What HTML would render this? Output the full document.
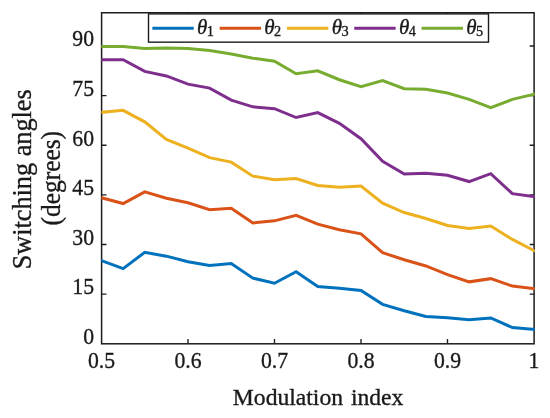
<!DOCTYPE html>
<html><head><meta charset="utf-8"><title>Switching angles</title>
<style>html,body{margin:0;padding:0;background:#fff}svg{display:block}text{font-family:"Liberation Serif",serif;fill:#1a1a1a;stroke:#1a1a1a;stroke-width:0.35px}</style></head><body>
<svg width="550" height="418" viewBox="0 0 550 418">
<rect width="550" height="418" fill="#fff"/>
<g stroke="#1c1c1c" stroke-width="1.5" fill="none">
<rect x="101.60" y="12.75" width="432.50" height="331.05"/>
<path stroke-width="1.35" d="M101.50 294.17h5.00 M534.00 294.17h-4.30"/>
<path stroke-width="1.35" d="M101.50 244.53h5.00 M534.00 244.53h-4.30"/>
<path stroke-width="1.35" d="M101.50 194.90h5.00 M534.00 194.90h-4.30"/>
<path stroke-width="1.35" d="M101.50 145.27h5.00 M534.00 145.27h-4.30"/>
<path stroke-width="1.35" d="M101.50 95.63h5.00 M534.00 95.63h-4.30"/>
<path stroke-width="1.35" d="M101.50 46.00h5.00 M534.00 46.00h-4.30"/>
<path stroke-width="1.35" d="M188.00 343.80v-4.80 M188.00 12.75v4.30"/>
<path stroke-width="1.35" d="M274.50 343.80v-4.80 M274.50 12.75v4.30"/>
<path stroke-width="1.35" d="M361.00 343.80v-4.80 M361.00 12.75v4.30"/>
<path stroke-width="1.35" d="M447.50 343.80v-4.80 M447.50 12.75v4.30"/>
</g>
<clipPath id="c"><rect x="101.40" y="12.75" width="433.40" height="331.75"/></clipPath>
<g clip-path="url(#c)" fill="none" stroke-width="3.00" stroke-linejoin="miter" stroke-linecap="square">
<polyline stroke="#0072BD" points="101.50,260.55 123.12,268.65 144.75,252.35 166.38,256.15 188.00,261.75 209.62,265.55 231.25,263.45 252.88,278.15 274.50,283.25 296.12,271.75 317.75,286.55 339.38,288.25 361.00,290.45 382.62,304.35 404.25,310.75 425.88,316.55 447.50,317.65 469.12,319.75 490.75,317.95 512.38,327.55 534.00,329.35"/>
<polyline stroke="#D95319" points="101.50,197.75 123.12,203.55 144.75,191.85 166.38,198.25 188.00,202.75 209.62,209.65 231.25,208.25 252.88,222.95 274.50,220.85 296.12,215.25 317.75,224.15 339.38,229.75 361.00,233.85 382.62,252.65 404.25,259.75 425.88,265.95 447.50,274.55 469.12,281.85 490.75,278.65 512.38,286.05 534.00,288.65"/>
<polyline stroke="#EDB120" points="101.50,112.35 123.12,110.35 144.75,121.85 166.38,139.35 188.00,148.15 209.62,157.65 231.25,162.15 252.88,176.15 274.50,179.75 296.12,178.45 317.75,185.55 339.38,187.35 361.00,186.05 382.62,203.25 404.25,212.55 425.88,218.55 447.50,225.45 469.12,228.55 490.75,225.95 512.38,239.45 534.00,250.55"/>
<polyline stroke="#7E2F8E" points="101.50,59.65 123.12,59.65 144.75,71.35 166.38,75.95 188.00,84.15 209.62,88.15 231.25,100.15 252.88,106.85 274.50,108.65 296.12,117.55 317.75,112.65 339.38,123.35 361.00,138.75 382.62,161.25 404.25,173.95 425.88,173.35 447.50,175.25 469.12,181.55 490.75,173.65 512.38,193.65 534.00,196.65"/>
<polyline stroke="#77AC30" points="101.50,46.45 123.12,46.45 144.75,48.45 166.38,48.05 188.00,48.45 209.62,50.55 231.25,53.95 252.88,58.15 274.50,61.25 296.12,73.75 317.75,70.85 339.38,79.75 361.00,86.65 382.62,80.55 404.25,88.65 425.88,89.25 447.50,93.05 469.12,99.35 490.75,107.75 512.38,99.35 534.00,94.25"/>
</g>
<text transform="translate(94.1 344.10) scale(0.925 1)" font-size="23.5" text-anchor="end">0</text>
<text transform="translate(94.1 294.47) scale(0.925 1)" font-size="23.5" text-anchor="end">15</text>
<text transform="translate(94.1 244.83) scale(0.925 1)" font-size="23.5" text-anchor="end">30</text>
<text transform="translate(94.1 195.20) scale(0.925 1)" font-size="23.5" text-anchor="end">45</text>
<text transform="translate(94.1 145.57) scale(0.925 1)" font-size="23.5" text-anchor="end">60</text>
<text transform="translate(94.1 95.93) scale(0.925 1)" font-size="23.5" text-anchor="end">75</text>
<text transform="translate(94.1 46.30) scale(0.925 1)" font-size="23.5" text-anchor="end">90</text>
<text transform="translate(101.50 368.2) scale(0.925 1)" font-size="23.5" text-anchor="middle">0.5</text>
<text transform="translate(188.00 368.2) scale(0.925 1)" font-size="23.5" text-anchor="middle">0.6</text>
<text transform="translate(274.50 368.2) scale(0.925 1)" font-size="23.5" text-anchor="middle">0.7</text>
<text transform="translate(361.00 368.2) scale(0.925 1)" font-size="23.5" text-anchor="middle">0.8</text>
<text transform="translate(447.50 368.2) scale(0.925 1)" font-size="23.5" text-anchor="middle">0.9</text>
<text transform="translate(534.00 368.2) scale(0.925 1)" font-size="23.5" text-anchor="middle">1</text>
<text transform="translate(318.1 404.8) scale(1.005 1)" font-size="23.5" word-spacing="2" text-anchor="middle">Modulation index</text>
<text transform="translate(30.9 179.3) rotate(-90) scale(0.955 1)" font-size="27.5" text-anchor="middle">Switching angles</text>
<text transform="translate(59.8 178.2) rotate(-90) scale(0.925 1)" font-size="27.5" text-anchor="middle">(degrees)</text>
<rect x="148.5" y="13.9" width="340" height="28.25" fill="#fff" stroke="#1c1c1c" stroke-width="1.4"/>
<path d="M152.35 28.2h41.4" stroke="#0072BD" stroke-width="3.00" fill="none"/>
<text x="197.05" y="33.7" font-size="21" font-style="italic" stroke-width="0.5">θ<tspan font-size="14.3" font-style="normal" dx="-0.6" dy="2.2">1</tspan></text>
<path d="M219.65 28.2h41.4" stroke="#D95319" stroke-width="3.00" fill="none"/>
<text x="264.35" y="33.7" font-size="21" font-style="italic" stroke-width="0.5">θ<tspan font-size="14.3" font-style="normal" dx="-0.6" dy="2.2">2</tspan></text>
<path d="M286.95 28.2h41.4" stroke="#EDB120" stroke-width="3.00" fill="none"/>
<text x="331.65" y="33.7" font-size="21" font-style="italic" stroke-width="0.5">θ<tspan font-size="14.3" font-style="normal" dx="-0.6" dy="2.2">3</tspan></text>
<path d="M354.25 28.2h41.4" stroke="#7E2F8E" stroke-width="3.00" fill="none"/>
<text x="398.95" y="33.7" font-size="21" font-style="italic" stroke-width="0.5">θ<tspan font-size="14.3" font-style="normal" dx="-0.6" dy="2.2">4</tspan></text>
<path d="M421.55 28.2h41.4" stroke="#77AC30" stroke-width="3.00" fill="none"/>
<text x="466.25" y="33.7" font-size="21" font-style="italic" stroke-width="0.5">θ<tspan font-size="14.3" font-style="normal" dx="-0.6" dy="2.2">5</tspan></text>
</svg></body></html>
